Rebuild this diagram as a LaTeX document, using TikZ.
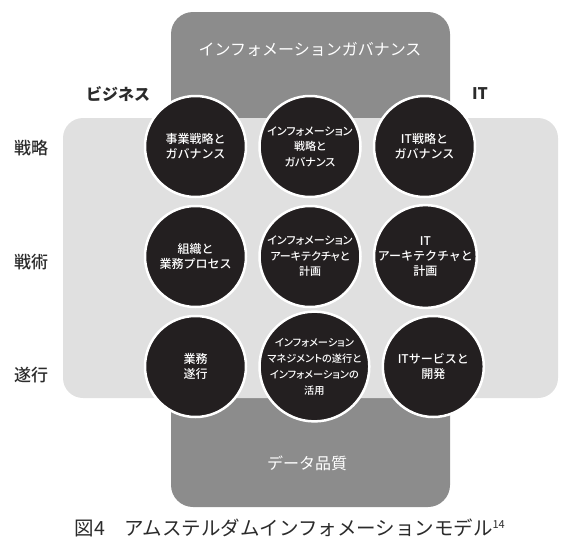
\documentclass[tikz,border=0pt]{standalone}
\usepackage{fontspec}
\setmainfont{Noto Sans CJK JP}
\newfontfamily\jpmedium{Noto Sans CJK JP Medium}
\newfontfamily\jpprop{Noto Sans CJK JP Medium}[RawFeature=+palt]
\usetikzlibrary{positioning}

\definecolor{govgray}{HTML}{8C8C8C}
\definecolor{layergray}{HTML}{E0E0E0}
\definecolor{cellblack}{HTML}{231F20}
\definecolor{labelgray}{HTML}{2B2B2B}

\begin{document}
\begin{tikzpicture}[x=1pt,y=-1pt]
        \tikzstyle{every node}=[inner sep=0pt]

        \tikzstyle{cell}=[circle,draw=white,line width=2.5pt,fill=cellblack,minimum size=101pt,text=white,align=center,font=\fontsize{12}{15}\selectfont\jpmedium]
        \tikzstyle{midcell}=[cell,font=\fontsize{11}{15.5}\selectfont\jpprop]
        \tikzstyle{densecell}=[cell,font=\fontsize{10.2}{16}\selectfont\jpprop]
        \tikzstyle{rowlab}=[text=labelgray,font=\fontsize{17}{20}\selectfont\jpmedium]
        \tikzstyle{collab}=[text=labelgray,font=\fontsize{16}{20}\selectfont\bfseries]
        \tikzstyle{boxlab}=[text=white,font=\fontsize{16}{20}\selectfont]

        \useasboundingbox (0,0) rectangle (570,557);

        \fill[govgray,rounded corners=22pt] (171,12) rectangle (450,507);   % governance / data quality
        \fill[layergray,rounded corners=20pt] (63,118) rectangle (558,398); % business / IT layer

        \node[boxlab] (gov) at (310,49) {インフォメーションガバナンス};
        \node[boxlab] (dq) at (307,463) {データ品質};

        \node[collab] (biz) at (118,94) {ビジネス};
        \node[collab] (it) at (480,94) {IT};

        \node[rowlab] (strat) at (31,148) {戦略};
        \node[rowlab] (tact) at (31,262) {戦術};
        \node[rowlab] (exec) at (31,375) {遂行};

        % strategy row
        \node[cell] (bizstrat) at (195.5,146.5) {事業戦略と\\ガバナンス};
        \node[midcell,right=11pt of bizstrat] (infstrat) {インフォメーション\\戦略と\\ガバナンス};
        \node[cell,right=11pt of infstrat] (itstrat) {IT戦略と\\ガバナンス};

        % tactics row
        \node[cell,below=6.5pt of bizstrat] (bizorg) {組織と\\業務プロセス};
        \node[midcell,right=11pt of bizorg] (infarch) {インフォメーション\\アーキテクチャと\\計画};
        \node[cell,right=11pt of infarch] (itarch) {IT\\アーキテクチャと\\計画};

        % execution row
        \node[cell,below=6.5pt of bizorg] (bizops) {業務\\遂行};
        \node[densecell,right=11pt of bizops] (infops) {インフォメーション\\マネジメントの遂行と\\インフォメーションの\\活用};
        \node[cell,right=11pt of infops] (itops) {ITサービスと\\開発};

        \node[text=labelgray,font=\fontsize{19.5}{20}\selectfont] (cap) at (290,528) {図4　アムステルダムインフォメーションモデル\textsuperscript{\fontsize{11}{11}\selectfont 14}};
\end{tikzpicture}
\end{document}
